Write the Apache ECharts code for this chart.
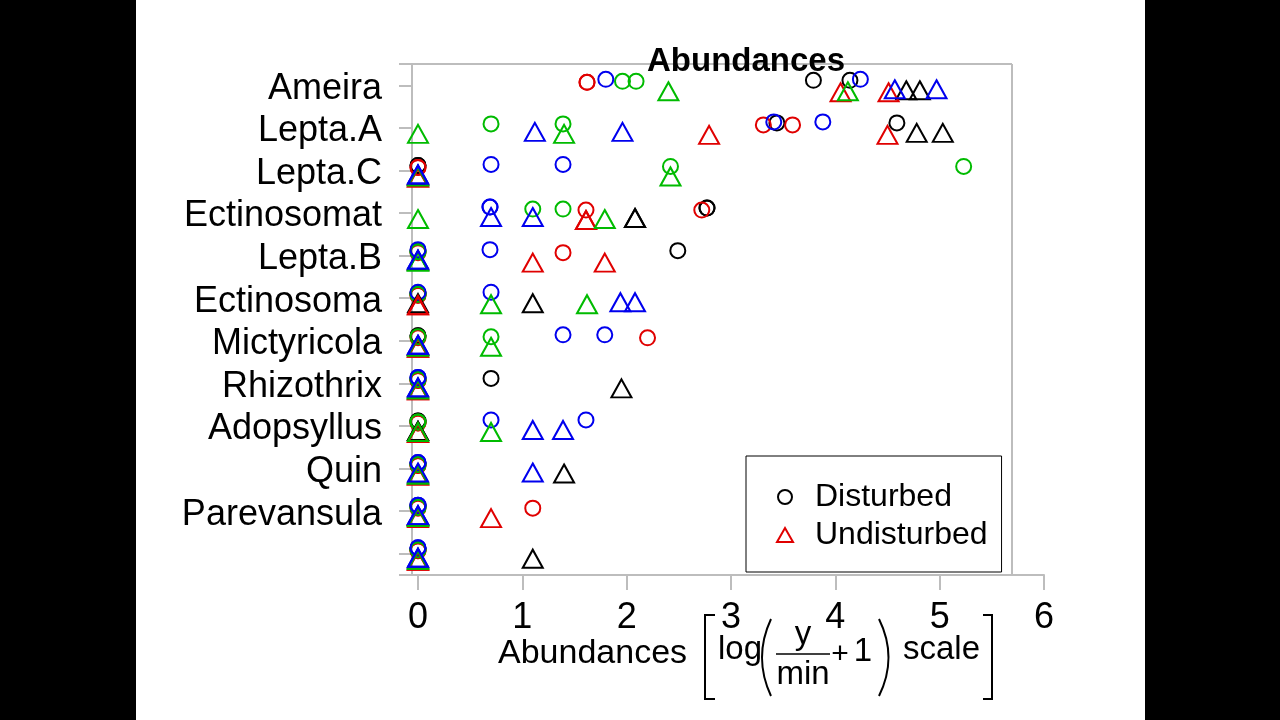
<!DOCTYPE html>
<html>
<head>
<meta charset="utf-8">
<script src="https://cdn.jsdelivr.net/npm/echarts@6/dist/echarts.min.js"></script>
<style>
html,body{margin:0;padding:0;background:#000;}
#chart{width:1280px;height:720px;background:linear-gradient(to right,#000 0,#000 136px,#fff 136px,#fff 1145px,#000 1145px,#000 1280px);}
</style>
</head>
<body>
<div id="chart"></div>
<script>
// Categories (top to bottom)
const species = ['Ameira','Lepta.A','Lepta.C','Ectinosomat','Lepta.B','Ectinosoma','Mictyricola','Rhizothrix','Adopsyllus','Quin','Parevansula',''];
const xTicks = [0,1,2,3,4,5,6];

// Disturbed (circles): two values per species, one array per colour
const disturbedBlack = [[3.79,4.14],[3.44,4.59],[0,0],[2.77,2.77],[0,2.49],[0,0],[0,0],[0,0.70],[0,0],[0,0],[0,0],[0,0]];
const disturbedRed   = [[1.62,1.62],[3.31,3.59],[0,0],[1.61,2.72],[0,1.39],[0,0],[0,2.20],[0,0],[0,0],[0,0],[0,1.10],[0,0]];
const disturbedGreen = [[1.96,2.09],[0.70,1.39],[2.42,5.23],[1.10,1.39],[0,0],[0,0],[0,0.70],[0,0],[0,0],[0,0],[0,0],[0,0]];
const disturbedBlue  = [[1.80,4.24],[3.41,3.88],[0.70,1.39],[0.69,0.69],[0,0.69],[0,0.70],[1.39,1.79],[0,0],[0.70,1.61],[0,0],[0,0],[0,0]];

// Undisturbed (triangles)
const undisturbedBlack = [[4.68,4.81],[4.78,5.03],[0,0],[2.08,2.08],[0,0],[0,1.10],[0,0],[0,1.95],[0,0],[0,1.40],[0,0],[0,1.10]];
const undisturbedRed   = [[4.05,4.51],[2.79,4.50],[0,0],[1.61,1.61],[1.10,1.79],[0,0],[0,0],[0,0],[0,0],[0,0],[0,0.70],[0,0]];
const undisturbedGreen = [[2.40,4.12],[0,1.40],[0,2.42],[0,1.79],[0,0],[0.70,1.62],[0,0.70],[0,0],[0,0.70],[0,0],[0,0],[0,0]];
const undisturbedBlue  = [[4.57,4.97],[1.12,1.96],[0,0],[0.70,1.10],[0,0],[1.94,2.08],[0,0],[0,0],[1.10,1.39],[0,1.10],[0,0],[0,0]];

const COL = {black:'#000000', red:'#e00000', green:'#00bb00', blue:'#0000ee'};
const colOff = {black:1, red:3, green:2, blue:0};
const FONT = "'Liberation Sans', Arial, sans-serif";

function toPoints(arr){
  const out = [];
  arr.forEach((pair, i) => pair.forEach(v => out.push([v, i])));
  return out;
}
function mk(name, arr, shape, colour){
  const isCircle = shape === 'circle';
  return {
    name: name,
    type: 'scatter',
    data: toPoints(arr),
    symbol: isCircle ? 'circle' : 'triangle',
    symbolSize: isCircle ? 15 : [20, 18],
    symbolOffset: [0, (isCircle ? -6 : 4) + colOff[colour]],
    itemStyle: {color: 'rgba(0,0,0,0)', borderColor: COL[colour], borderWidth: 2, opacity: 1},
    emphasis: {disabled: true},
    silent: true
  };
}

const series = [
  mk('Disturbed', disturbedBlack, 'circle', 'black'),
  mk('Disturbed red', disturbedRed, 'circle', 'red'),
  mk('Disturbed green', disturbedGreen, 'circle', 'green'),
  mk('Disturbed blue', disturbedBlue, 'circle', 'blue'),
  mk('Undisturbed black', undisturbedBlack, 'triangle', 'black'),
  mk('Undisturbed', undisturbedRed, 'triangle', 'red'),
  mk('Undisturbed green', undisturbedGreen, 'triangle', 'green'),
  mk('Undisturbed blue', undisturbedBlue, 'triangle', 'blue')
];

const GRAY = '#bdbdbd';
const chart = echarts.init(document.getElementById('chart'), null, {renderer: 'canvas'});
chart.setOption({
  animation: false,
  backgroundColor: 'transparent',
  title: {
    text: 'Abundances',
    left: 647, top: 45, padding: 0,
    textStyle: {fontFamily: FONT, fontSize: 33, fontWeight: 'bold', color: '#000'}
  },
  legend: {
    data: [
      {name: 'Disturbed', icon: 'circle', itemStyle: {color: 'rgba(0,0,0,0)', borderColor: '#000', borderWidth: 2}},
      {name: 'Undisturbed', icon: 'triangle', itemStyle: {color: 'rgba(0,0,0,0)', borderColor: COL.red, borderWidth: 2}}
    ],
    orient: 'vertical',
    left: 746, top: 456,
    padding: [25, 14, 21, 30],
    itemWidth: 16, itemHeight: 14, itemGap: 6,
    borderColor: '#000', borderWidth: 1,
    selectedMode: false,
    textStyle: {fontFamily: FONT, fontSize: 32, color: '#000', lineHeight: 32, padding: [0,0,0,17]}
  },
  grid: {left: 412, top: 64, width: 632, height: 511},
  xAxis: {
    type: 'value', min: -0.0575, max: 6,
    axisLine: {show: true, lineStyle: {color: GRAY, width: 2}},
    axisTick: {show: true, length: 15, customValues: xTicks, lineStyle: {color: GRAY, width: 2}},
    axisLabel: {customValues: xTicks, fontFamily: FONT, fontSize: 36, color: '#000', margin: 25},
    splitLine: {show: false}
  },
  yAxis: {
    type: 'category', data: species, inverse: true,
    axisLine: {show: true, onZero: false, lineStyle: {color: GRAY, width: 2}},
    axisTick: {show: true, alignWithLabel: true, interval: 0, length: 13, lineStyle: {color: GRAY, width: 2}},
    axisLabel: {
      interval: 0, margin: 30,
      formatter: function (v) { return v ? '{n|' + v + '}' : ''; },
      rich: {n: {fontFamily: FONT, fontSize: 36, color: '#000', padding: [7, 0, 0, 0]}}
    },
    splitLine: {show: false}
  },
  graphic: [
    {type: 'line', shape: {x1: 399, y1: 64, x2: 1012, y2: 64}, style: {stroke: GRAY, lineWidth: 2}, silent: true},
    {type: 'line', shape: {x1: 1012, y1: 64, x2: 1012, y2: 575}, style: {stroke: GRAY, lineWidth: 2}, silent: true},
    {type: 'line', shape: {x1: 399, y1: 575, x2: 412, y2: 575}, style: {stroke: GRAY, lineWidth: 2}, silent: true},
    {type: 'text', x: 498, y: 654, style: {text: 'Abundances', font: '34px ' + FONT, fill: '#000', textAlign: 'left', textVerticalAlign: 'middle'}, silent: true},
    {type: 'polyline', shape: {points: [[715,615],[705,615],[705,699],[715,699]]}, style: {stroke: '#000', lineWidth: 2, fill: null}, silent: true},
    {type: 'text', x: 718, y: 650, style: {text: 'log', font: '33px ' + FONT, fill: '#000', textAlign: 'left', textVerticalAlign: 'middle'}, silent: true},
    {type: 'bezierCurve', shape: {x1: 771, y1: 619, x2: 771, y2: 696, cpx1: 753, cpy1: 657.5}, style: {stroke: '#000', lineWidth: 2, fill: null}, silent: true},
    {type: 'text', x: 803, y: 635, style: {text: 'y', font: '33px ' + FONT, fill: '#000', textAlign: 'center', textVerticalAlign: 'middle'}, silent: true},
    {type: 'line', shape: {x1: 776, y1: 654, x2: 830, y2: 654}, style: {stroke: '#000', lineWidth: 1.5}, silent: true},
    {type: 'text', x: 803, y: 675, style: {text: 'min', font: '33px ' + FONT, fill: '#000', textAlign: 'center', textVerticalAlign: 'middle'}, silent: true},
    {type: 'text', x: 840, y: 655, style: {text: '+', font: '30px ' + FONT, fill: '#000', textAlign: 'center', textVerticalAlign: 'middle'}, silent: true},
    {type: 'text', x: 863, y: 652, style: {text: '1', font: '33px ' + FONT, fill: '#000', textAlign: 'center', textVerticalAlign: 'middle'}, silent: true},
    {type: 'bezierCurve', shape: {x1: 879, y1: 619, x2: 879, y2: 696, cpx1: 898, cpy1: 657.5}, style: {stroke: '#000', lineWidth: 2, fill: null}, silent: true},
    {type: 'text', x: 903, y: 650, style: {text: 'scale', font: '33px ' + FONT, fill: '#000', textAlign: 'left', textVerticalAlign: 'middle'}, silent: true},
    {type: 'polyline', shape: {points: [[983,615],[992,615],[992,699],[983,699]]}, style: {stroke: '#000', lineWidth: 2, fill: null}, silent: true}
  ],
  series: series
});
</script>
</body>
</html>
